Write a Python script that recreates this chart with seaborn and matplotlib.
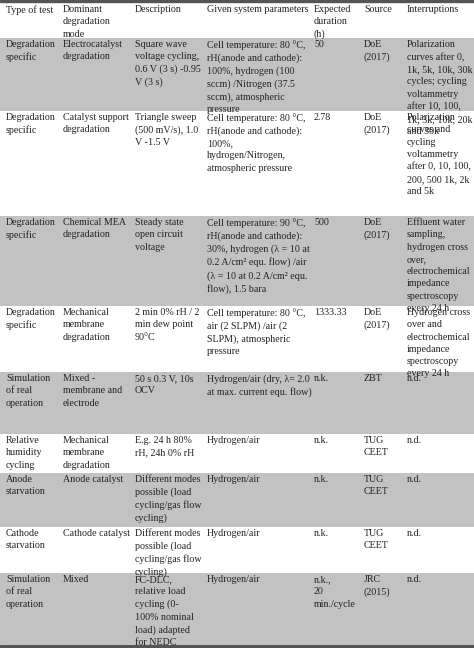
import matplotlib
matplotlib.use("Agg")
import matplotlib.pyplot as plt
import seaborn as sns

sns.set_style("white")
plt.rcParams['font.family'] = ['Liberation Serif', 'DejaVu Serif']

headers = ["Type of test", "Dominant\ndegradation\nmode", "Description",
           "Given system parameters", "Expected\nduration\n(h)", "Source", "Interruptions"]

test_type = ["Degradation\nspecific", "Degradation\nspecific", "Degradation\nspecific",
             "Degradation\nspecific", "Simulation\nof real\noperation", "Relative\nhumidity\ncycling",
             "Anode\nstarvation", "Cathode\nstarvation", "Simulation\nof real\noperation"]
mode = ["Electrocatalyst\ndegradation", "Catalyst support\ndegradation", "Chemical MEA\ndegradation",
        "Mechanical\nmembrane\ndegradation", "Mixed -\nmembrane and\nelectrode",
        "Mechanical\nmembrane\ndegradation", "Anode catalyst", "Cathode catalyst", "Mixed"]
description = ["Square wave\nvoltage cycling,\n0.6 V (3 s) -0.95\nV (3 s)",
               "Triangle sweep\n(500 mV/s), 1.0\nV -1.5 V",
               "Steady state\nopen circuit\nvoltage",
               "2 min 0% rH / 2\nmin dew point\n90°C",
               "50 s 0.3 V, 10s\nOCV",
               "E.g. 24 h 80%\nrH, 24h 0% rH",
               "Different modes\npossible (load\ncycling/gas flow\ncycling)",
               "Different modes\npossible (load\ncycling/gas flow\ncycling)",
               "FC-DLC,\nrelative load\ncycling (0-\n100% nominal\nload) adapted\nfor NEDC"]
params = ["Cell temperature: 80 °C,\nrH(anode and cathode):\n100%, hydrogen (100\nsccm) /Nitrogen (37.5\nsccm), atmospheric\npressure",
          "Cell temperature: 80 °C,\nrH(anode and cathode):\n100%,\nhydrogen/Nitrogen,\natmospheric pressure",
          "Cell temperature: 90 °C,\nrH(anode and cathode):\n30%, hydrogen (λ = 10 at\n0.2 A/cm² equ. flow) /air\n(λ = 10 at 0.2 A/cm² equ.\nflow), 1.5 bara",
          "Cell temperature: 80 °C,\nair (2 SLPM) /air (2\nSLPM), atmospheric\npressure",
          "Hydrogen/air (dry, λ= 2.0\nat max. current equ. flow)",
          "Hydrogen/air", "Hydrogen/air", "Hydrogen/air", "Hydrogen/air"]
duration = ["50", "2.78", "500", "1333.33", "n.k.", "n.k.", "n.k.", "n.k.", "n.k.,\n20\nmin./cycle"]
source = ["DoE\n(2017)", "DoE\n(2017)", "DoE\n(2017)", "DoE\n(2017)", "ZBT",
          "TUG\nCEET", "TUG\nCEET", "TUG\nCEET", "JRC\n(2015)"]
interruptions = ["Polarization\ncurves after 0,\n1k, 5k, 10k, 30k\ncycles; cycling\nvoltammetry\nafter 10, 100,\n1k, 3k, 10k, 20k\nand 30k",
                 "Polarization\ncurves and\ncycling\nvoltammetry\nafter 0, 10, 100,\n200, 500 1k, 2k\nand 5k",
                 "Effluent water\nsampling,\nhydrogen cross\nover,\nelectrochemical\nimpedance\nspectroscopy\nevery 24 h",
                 "Hydrogen cross\nover and\nelectrochemical\nimpedance\nspectroscopy\nevery 24 h",
                 "n.d.", "n.d.", "n.d.", "n.d.", "n.d."]

# layout in pixels
col_x = [6, 63, 135, 207, 314, 364, 407]
row_top = [2, 38, 111, 216, 306, 372, 434, 473, 527, 573]
row_bottom = 645

fig = plt.figure(figsize=(4.74, 6.48), dpi=100)
ax = fig.add_axes([0, 0, 1, 1])
ax.set_xlim(0, 474)
ax.set_ylim(648, 0)
ax.axis("off")

ax.axhspan(0, 2, color="#555555")
ax.axhspan(645, 648, color="#555555")
bounds = row_top[1:] + [row_bottom]
for i in range(9):
    if i % 2 == 0:
        ax.axhspan(bounds[i], bounds[i + 1], color="#c2c2c2", lw=0)

fs = 7.2
ls = 1.47
for x, h in zip(col_x, headers):
    ax.text(x, row_top[0] + 3, h, fontsize=fs, va="top", ha="left", linespacing=ls, color="#222222")

columns = [test_type, mode, description, params, duration, source, interruptions]
for i in range(9):
    for x, col in zip(col_x, columns):
        ax.text(x, bounds[i] + 2, col[i], fontsize=fs, va="top", ha="left",
                linespacing=ls, color="#222222")

fig.savefig("out.png", dpi=100)
